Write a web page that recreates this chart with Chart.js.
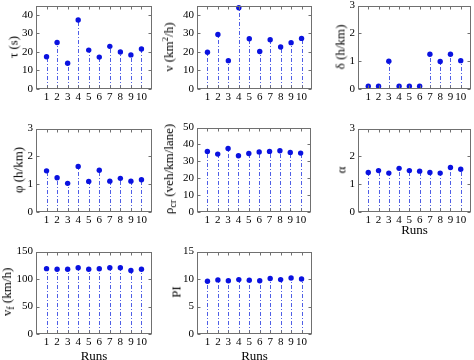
<!DOCTYPE html>
<html><head><meta charset="utf-8">
<script src="https://cdn.jsdelivr.net/npm/chart.js@4"></script>
<style>
body{margin:0;background:#fff;width:474px;height:360px;position:relative;overflow:hidden;font-family:'Liberation Serif','Times New Roman',serif}
canvas{position:absolute}
.yt{position:absolute;white-space:nowrap;font-size:13px;color:#000;transform:translate(-50%,-50%) rotate(-90deg);line-height:1}
.yt sub{font-size:10px;vertical-align:-3px}
.yt sup{font-size:9px;vertical-align:5px}
</style></head><body>
<script>
// ---- data ----
const runs = [1,2,3,4,5,6,7,8,9,10];
const tau   = [17.4, 25.1, 13.9, 37.2, 21.0, 17.2, 23.0, 20.0, 18.4, 21.6];
const nu    = [19.8, 29.4, 15.3, 43.8, 27.1, 20.2, 26.6, 22.7, 25.0, 27.3];
const delta = [0.1, 0.1, 1.0, 0.1, 0.1, 0.1, 1.25, 0.99, 1.25, 1.02];
const phi   = [1.48, 1.23, 1.03, 1.64, 1.10, 1.50, 1.11, 1.21, 1.11, 1.16];
const rhoCr = [35.9, 34.3, 37.6, 33.3, 34.7, 35.6, 35.9, 36.3, 35.3, 34.9];
const alpha = [1.42, 1.49, 1.40, 1.57, 1.49, 1.47, 1.42, 1.40, 1.60, 1.54];
const vf    = [119, 118, 118, 120.5, 118, 118.7, 120.5, 120.5, 115.6, 118];
const PI    = [9.6, 9.85, 9.7, 9.9, 9.8, 9.7, 10.1, 9.9, 10.2, 10.0];

const yMax  = {tau:45, nu:45, delta:3, phi:3, rhoCr:50, alpha:3, vf:150, PI:15};
const yStep = {tau:10, nu:10, delta:1, phi:1, rhoCr:10, alpha:1, vf:50, PI:5};
const yTitles = {
  tau:'τ (s)', nu:'ν (km<sup>2</sup>/h)', delta:'δ (h/km)', phi:'φ (h/km)',
  rhoCr:'ρ<sub>cr</sub> (veh/km/lane)', alpha:'α', vf:'v<sub>f</sub> (km/h)', PI:'PI'
};
const xTitle = 'Runs';

// ---- layout ----
const panels = [
  {key:'tau',   data:tau,   area:[36,4,152,89],    tx:13,  runs:false},
  {key:'nu',    data:nu,    area:[197,4,312,89],   tx:168, runs:false},
  {key:'delta', data:delta, area:[358,4,471,89],   tx:340, runs:false},
  {key:'phi',   data:phi,   area:[36,127,152,212], tx:18,  runs:false},
  {key:'rhoCr', data:rhoCr, area:[197,126,311,212],tx:170, runs:false},
  {key:'alpha', data:alpha, area:[358,127,471,212],tx:341, runs:true},
  {key:'vf',    data:vf,    area:[36,250,152,334], tx:8,   runs:true},
  {key:'PI',    data:PI,    area:[197,250,312,334],tx:176, runs:true}
];

const stemPlugin = {
  id:'stems',
  beforeDatasetsDraw(chart){
    const ctx = chart.ctx, y0 = chart.scales.y.getPixelForValue(0);
    const meta = chart.getDatasetMeta(0);
    ctx.save();
    ctx.strokeStyle = '#4f5fe6';
    ctx.lineWidth = 1;
    ctx.setLineDash([4,2,1,2]);
    meta.data.forEach(p=>{
      const x = Math.round(p.x)+0.5;
      ctx.beginPath(); ctx.moveTo(x, y0); ctx.lineTo(x, p.y); ctx.stroke();
    });
    ctx.restore();
  },
  afterDraw(chart){
    const ctx = chart.ctx, a = chart.chartArea;
    const L=Math.round(a.left)+0.5, R=Math.round(a.right)-0.5, T=Math.round(a.top)+0.5, B=Math.round(a.bottom)-0.5;
    ctx.save();
    ctx.strokeStyle = '#707070';
    ctx.lineWidth = 1;
    ctx.strokeRect(L, T, R-L, B-T);
    ctx.beginPath();
    chart.scales.x.ticks.forEach(t=>{
      const x = Math.round(chart.scales.x.getPixelForValue(t.value))+0.5;
      ctx.moveTo(x,B); ctx.lineTo(x,B-3);
      ctx.moveTo(x,T); ctx.lineTo(x,T+3);
    });
    chart.scales.y.ticks.forEach(t=>{
      const y = Math.round(chart.scales.y.getPixelForValue(t.value))+0.5;
      ctx.moveTo(L,y); ctx.lineTo(L+3,y);
      ctx.moveTo(R,y); ctx.lineTo(R-3,y);
    });
    ctx.stroke();
    ctx.restore();
  }
};

const YW = 34, PT = 8, PR = 3;
panels.forEach(p=>{
  const [x0,y0,x1,y1] = p.area;
  const XH = p.runs ? (p.key==='alpha' ? 26 : 30) : 14;
  const cv = document.createElement('canvas');
  const w = (x1-x0)+YW+PR, h = (y1-y0)+PT+XH;
  cv.width = w; cv.height = h;
  cv.style.left = (x0-YW)+'px'; cv.style.top = (y0-PT)+'px';
  cv.style.width = w+'px'; cv.style.height = h+'px';
  document.body.appendChild(cv);

  const t = document.createElement('div');
  t.className = 'yt';
  t.innerHTML = yTitles[p.key];
  t.style.left = p.tx+'px';
  t.style.top = ((y0+y1)/2)+'px';
  document.body.appendChild(t);

  new Chart(cv, {
    type:'scatter',
    data:{datasets:[{
      data: runs.map((r,i)=>({x:r, y:p.data[i]})),
      backgroundColor:'#0a12e0', borderColor:'#0a12e0',
      pointRadius:2.7, pointHoverRadius:2.7, pointBorderWidth:0,
      clip:false
    }]},
    options:{
      responsive:false, animation:false, devicePixelRatio:1,
      layout:{padding:{top:PT,right:PR,left:0,bottom:0}},
      plugins:{legend:{display:false}, tooltip:{enabled:false}},
      scales:{
        x:{
          type:'linear', min:0, max:11,
          afterBuildTicks: s=>{ s.ticks = runs.map(v=>({value:v})); },
          afterFit: s=>{ s.height = XH; },
          grid:{display:false, drawTicks:false},
          border:{display:false},
          ticks:{padding:2, color:'#000', autoSkip:false, maxRotation:0,
                 font:{family:"'Liberation Serif', serif", size:11}},
          title:{display:p.runs, text:xTitle, color:'#000', padding:0,
                 font:{family:"'Liberation Serif', serif", size:13}}
        },
        y:{
          min:0, max:yMax[p.key],
          afterBuildTicks: s=>{ const a=[]; for(let v=0; v<=yMax[p.key]+1e-9; v+=yStep[p.key]) a.push({value:v}); s.ticks=a; },
          afterFit: s=>{ s.width = YW; },
          grid:{display:false, drawTicks:false},
          border:{display:false},
          ticks:{padding:3, color:'#000',
                 font:{family:"'Liberation Serif', serif", size:11}}
        }
      }
    },
    plugins:[stemPlugin]
  });
});
</script>
</body></html>
